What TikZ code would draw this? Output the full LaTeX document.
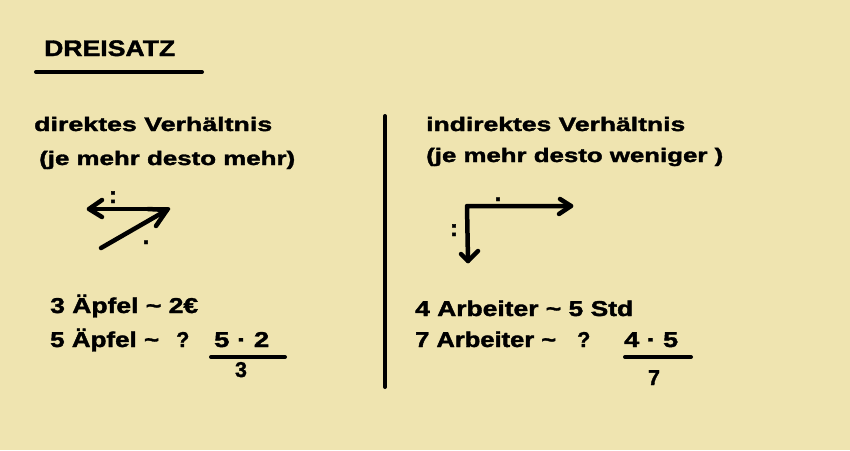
\documentclass[tikz,border=0pt]{standalone}
\usepackage{fontspec}
\setmainfont{Liberation Sans}[BoldFeatures={FakeBold=1.6}]
\definecolor{bg}{RGB}{239,228,176}
\newcommand{\fitw}[2]{\resizebox{#1pt}{\height}{#2}}
\tikzset{
  txt/.style={anchor=base west, inner sep=0pt, font=\bfseries\fontsize{19.5}{19.5}\selectfont},
  big/.style={txt, font=\bfseries\fontsize{21.5}{21.5}\selectfont},
  dig/.style={anchor=base, inner sep=0pt, font=\bfseries\fontsize{21.5}{21.5}\selectfont},
  dotmark/.style={anchor=base, inner sep=0pt, font=\bfseries\fontsize{23}{23}\selectfont},
  rule/.style={line width=4pt, line cap=round},
  arrowline/.style={line width=4.5pt, line cap=round, line join=round}
}
\begin{document}
\begin{tikzpicture}[x=1pt,y=-1pt]
\fill[bg] (0,0) rectangle (850,450);
\useasboundingbox (0,0) rectangle (850,450);
% title
\node[big, font=\bfseries\fontsize{22.5}{22.5}\selectfont] (title) at (44,56) {\fitw{131}{DREISATZ}};
\coordinate (ul1) at (36,72);
\coordinate (ul2) at (202,72);
\draw[rule] (ul1) -- (ul2);
% divider
\coordinate (d1) at (385,116);
\coordinate (d2) at (385,387);
\draw[rule] (d1) -- (d2);
% left headings
\node[txt] (h1) at (34,131) {\fitw{238}{direktes Verhältnis}};
\node[txt] (h2) at (39,165) {\fitw{256}{(je mehr desto mehr)}};
% right headings
\node[txt] (h3) at (426,131) {\fitw{259}{indirektes Verhältnis}};
\node[txt] (h4) at (426,162) {\fitw{297}{(je mehr desto weniger )}};
% left arrows
\coordinate (la1) at (168,209);
\coordinate (la2) at (89,209);
\coordinate (la2a) at (102,200);
\coordinate (la2b) at (102,217);
\draw[arrowline] (la1) -- (la2);
\draw[arrowline] (la2a) -- (la2) -- (la2b);
\coordinate (lb1) at (101,248);
\coordinate (lb2) at (167,210);
\coordinate (lb2a) at (148,209);
\coordinate (lb2b) at (156,226);
\draw[arrowline] (lb1) -- (lb2);
\draw[arrowline] (lb2a) -- (lb2) -- (lb2b);
\node[dotmark] (lcolon) at (113,203) {:};
\node[dotmark] (ldot) at (146,244) {.};
% right arrows
\coordinate (rc) at (467,206);
\coordinate (rh) at (571,206);
\coordinate (rha) at (560,199);
\coordinate (rhb) at (559,214);
\coordinate (rv) at (468,261);
\coordinate (rva) at (461,254);
\coordinate (rvb) at (478,251);
\draw[arrowline] (rh) -- (rc) -- (rv);
\draw[arrowline] (rha) -- (rh) -- (rhb);
\draw[arrowline] (rva) -- (rv) -- (rvb);
\node[dotmark] (rdot) at (498,201) {.};
\node[dotmark] (rcolon) at (454,236) {:};
% left example
\node[big] (l1) at (50,313) {\fitw{148}{3 Äpfel \textasciitilde{} 2€}};
\node[big] (l2) at (50,347) {\fitw{109}{5 Äpfel \textasciitilde}};
\node[big] (lq) at (176,347) {?};
\node[big] (lnum) at (214,347) {\fitw{55}{5 · 2}};
\coordinate (lf1) at (211,357);
\coordinate (lf2) at (285,357);
\draw[rule] (lf1) -- (lf2);
\node[dig] (lden) at (241,377) {3};
% right example
\node[big] (r1) at (415,316) {\fitw{218}{4 Arbeiter \textasciitilde{} 5 Std}};
\node[big] (r2) at (415,347) {\fitw{141}{7 Arbeiter \textasciitilde}};
\node[big] (rq) at (577,347) {?};
\node[big] (rnum) at (624,347) {\fitw{54}{4 · 5}};
\coordinate (rf1) at (625,357);
\coordinate (rf2) at (691,357);
\draw[rule] (rf1) -- (rf2);
\node[dig] (rden) at (654,385) {7};
\end{tikzpicture}
\end{document}
